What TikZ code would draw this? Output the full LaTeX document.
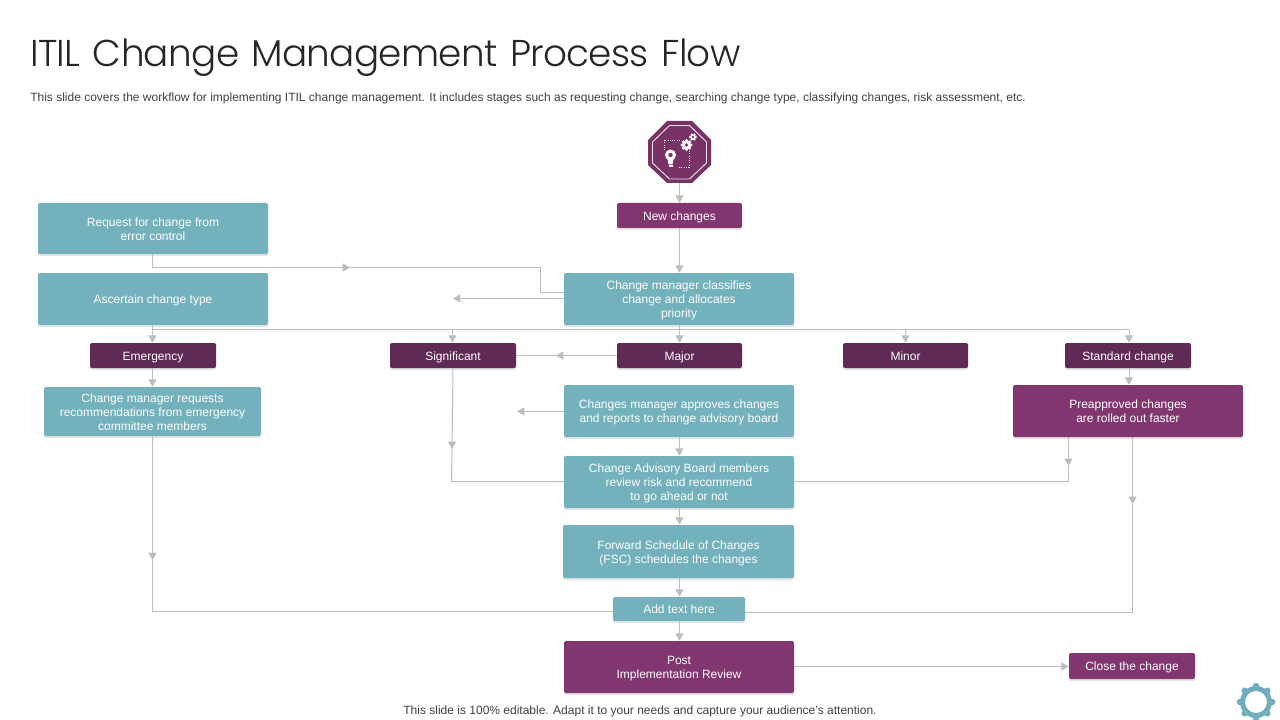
\documentclass[tikz,border=0pt]{standalone}
\usepackage{fontspec}
\setmainfont{Liberation Sans}
\newfontfamily\titlefont[LetterSpace=-1.8,WordSpace=1.3]{Poppins Light}
\usetikzlibrary{arrows.meta,shadows,calc}
\definecolor{tealbox}{HTML}{73B1BC}
\definecolor{plum}{HTML}{82366F}
\definecolor{darkplum}{HTML}{5F2A55}
\definecolor{linkgray}{HTML}{BDBDBD}
\definecolor{bodytext}{HTML}{404040}
\definecolor{gearteal}{HTML}{6FAEBB}
\tikzset{
  x=0.75pt,y=-0.75pt,
  box/.style={rounded corners=1.5pt,text=white,inner sep=0pt,font=\fontsize{9}{10.5}\selectfont,
    drop shadow={shadow xshift=0pt,shadow yshift=-1.5pt,opacity=.1,fill=black}},
  tealnode/.style={box,fill=tealbox},
  plumnode/.style={box,fill=plum},
  darknode/.style={box,fill=darkplum},
  link/.style={draw=linkgray,line width=0.75pt},
  tiplink/.style={link,-{Triangle[length=5.5pt,width=6pt,fill=linkgray]}},
}
\newcommand{\bx}[6]{\node[#1,minimum width=#4*0.75pt,minimum height=#5*0.75pt] (#2) at (#3) {\begin{tabular}{@{}c@{}}\rule{0pt}{10.3pt}#6\end{tabular}};}
\begin{document}
\begin{tikzpicture}
\useasboundingbox (0,0) rectangle (1280,720);
\fill[white] (0,0) rectangle (1280,720);

\node[anchor=base west,inner sep=0pt,text=black!85,font=\titlefont\fontsize{28}{34}\selectfont] (title) at (30,67) {ITIL Change Management Process Flow};
\node[anchor=west,inner sep=0pt,text=bodytext,font=\fontsize{9}{11}\selectfont] (sub) at (30,98.5) {This slide covers the workflow for implementing ITIL change management. It includes stages such as requesting change, searching change type, classifying changes, risk assessment, etc.};
\node[inner sep=0pt,text=bodytext,font=\fontsize{9}{11}\selectfont] (foot) at (640,711.5) {This slide is 100\% editable. Adapt it to your needs and capture your audience's attention.};

\bx{tealnode}{req}{153,228.5}{230}{51}{Request for change from\\error control}
\bx{tealnode}{asc}{153,299}{230}{52}{Ascertain change type}
\bx{plumnode}{new}{679.5,215.5}{125}{25}{New changes}
\bx{tealnode}{cls}{679,299}{230}{52}{Change manager classifies\\change and allocates\\priority}
\bx{darknode}{eme}{153,355.5}{126}{25}{Emergency}
\bx{darknode}{sig}{453,355.5}{126}{25}{Significant}
\bx{darknode}{maj}{679.5,355.5}{125}{25}{Major}
\bx{darknode}{min}{905.5,355.5}{125}{25}{Minor}
\bx{darknode}{std}{1128,355.5}{126}{25}{Standard change}
\bx{tealnode}{rec}{152.5,411.5}{217}{49}{Change manager requests\\recommendations from emergency\\committee members}
\bx{tealnode}{app}{679,411}{230}{52}{Changes manager approves changes\\and reports to change advisory board}
\bx{plumnode}{pre}{1128,411}{230}{52}{Preapproved changes\\are rolled out faster}
\bx{tealnode}{cab}{679,482}{230}{52}{Change Advisory Board members\\review risk and recommend\\to go ahead or not}
\bx{tealnode}{fsc}{678.5,551.5}{231}{53}{Forward Schedule of Changes\\(FSC) schedules the changes}
\bx{tealnode}{add}{679,609}{132}{24}{Add text here}
\bx{plumnode}{post}{679,667}{230}{52}{Post\\Implementation Review}
\bx{plumnode}{close}{1132,666}{126}{26}{Close the change}

% octagon icon
\fill[plum!92!black] (667,121) -- (692,121) -- (711,140) -- (711,165) -- (692,183) -- (667,183) -- (648,165) -- (648,140) -- cycle;
\draw[white!85!plum,line width=0.7pt] (669.5,125.5) -- (689.5,125.5) -- (706.5,142) -- (706.5,163) -- (689.5,179) -- (669.5,179) -- (652.5,163) -- (652.5,142) -- cycle;
\draw[white!85!plum,line width=0.7pt,densely dotted] (664,150) -- (664,140) -- (680,140);
\draw[white!85!plum,line width=0.7pt,densely dotted] (689,151) -- (689,167) -- (678,167);
\fill[white] (670.5,155) circle (5.5);
\fill[plum] (670.5,155) circle (2.2);
\fill[white] (667.5,158.5) -- (673.5,158.5) -- (672.5,164.5) -- (668.5,164.5) -- cycle;
\fill[white] (668.5,165.5) rectangle (672.5,167.5);
\foreach \a in {0,45,...,315}{\fill[white] ($(686.5,145)+(\a:4.5)$) circle (1.6);}
\fill[white] (686.5,145) circle (4.6); \fill[plum] (686.5,145) circle (1.9);
\foreach \a in {0,60,...,300}{\fill[white] ($(693,137)+(\a:3)$) circle (1.1);}
\fill[white] (693,137) circle (3); \fill[plum] (693,137) circle (1.4);

% connectors
\coordinate (octbot) at (679.5,183);
\draw[tiplink] (octbot) -- (new.north);
\draw[tiplink] (new.south) -- (cls.north -| new.south);
% request -> arrow -> classifier
\coordinate (j1) at (152.5,267.5);
\coordinate (j1a) at (350,267.5);
\coordinate (j1b) at (540.5,267.5);
\coordinate (j1c) at (540.5,292.5);
\coordinate (j1d) at (564,292.5);
\draw[tiplink] (req.south -| j1) -- (j1) -- (j1a);
\draw[link] (j1a) -- (j1b) -- (j1c) -- (j1d);
% classifier -> left arrow
\coordinate (j2) at (564,298.5);
\coordinate (j2a) at (453,298.5);
\draw[tiplink] (j2) -- (j2a);
% bus
\coordinate (bus0) at (152.5,329.5);
\coordinate (bus1) at (1129,329.5);
\draw[link] (bus0) -- (bus1);
\draw[link] (asc.south -| bus0) -- (bus0);
\draw[tiplink] (bus0) -- (eme.north -| bus0);
\coordinate (busS) at (452.5,329.5);
\draw[tiplink] (busS) -- (sig.north -| busS);
\draw[tiplink] (cls.south -| maj.north) -- (maj.north);
\coordinate (busM) at (905.5,329.5);
\draw[tiplink] (busM) -- (min.north);
\draw[tiplink] (bus1) -- (std.north -| bus1);
% major -> significant
\coordinate (m1) at (556,355.5);
\draw[tiplink] (maj.west) -- (m1);
\draw[link] (m1) -- (sig.east);
% vertical chain
\draw[tiplink] (eme.south -| bus0) -- (rec.north -| bus0);
\draw[tiplink] (std.south -| bus1) -- (pre.north -| bus1);
\coordinate (a1) at (517,411.5);
\draw[tiplink] (app.west |- a1) -- (a1);
\draw[tiplink] (app.south -| maj.south) -- (cab.north -| maj.south);
\draw[tiplink] (cab.south -| maj.south) -- (fsc.north -| maj.south);
\draw[tiplink] (fsc.south -| maj.south) -- (add.north -| maj.south);
\draw[tiplink] (add.south -| maj.south) -- (post.north -| maj.south);
% significant -> CAB
\coordinate (s1) at (452,449);
\coordinate (s2) at (451.5,481.5);
\draw[tiplink] (sig.south) -- (s1);
\draw[link] (s1) -- (s2) -- (cab.west |- s2);
% preapproved -> CAB
\coordinate (p1) at (1068.5,466);
\coordinate (p2) at (1068.5,481.5);
\draw[tiplink] (pre.south -| p1) -- (p1);
\draw[link] (p1) -- (p2) -- (cab.east |- p2);
% emergency rec -> add
\coordinate (e1) at (152.5,560);
\coordinate (e2) at (152.5,611.5);
\draw[tiplink] (rec.south) -- (e1);
\draw[link] (e1) -- (e2) -- (add.west |- e2);
% preapproved -> add
\coordinate (r1) at (1132.5,504);
\coordinate (r2) at (1132.5,612.5);
\draw[tiplink] (pre.south -| r1) -- (r1);
\draw[link] (r1) -- (r2) -- (add.east |- r2);
% post -> close
\coordinate (c1) at (1069,666.5);
\draw[tiplink] (post.east |- c1) -- (close.west |- c1);

% gear
\begin{scope}[shift={(1256,702)}]
\foreach \a in {0,45,...,315}{\fill[gearteal,rotate=\a,rounded corners=1pt] (-3.5,-13) -- (-2.5,-19) -- (2.5,-19) -- (3.5,-13) -- cycle;}
\fill[gearteal,even odd rule] (0,0) circle (16) (0,0) circle (11);
\end{scope}
\end{tikzpicture}
\end{document}
